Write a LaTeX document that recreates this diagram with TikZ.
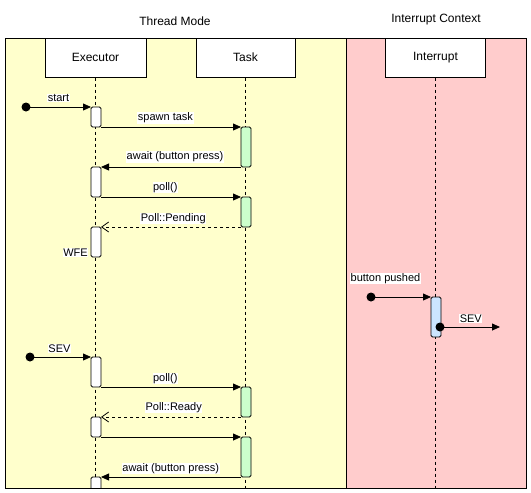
\documentclass[tikz,border=0pt]{standalone}
\usepackage{fontspec}
\setmainfont{Liberation Sans}
\usetikzlibrary{arrows.meta}
\definecolor{laney}{HTML}{FFFFCC}
\definecolor{lanep}{HTML}{FFCCCC}
\definecolor{actg}{HTML}{CCFFCC}
\definecolor{actb}{HTML}{CCE5FF}
\tikzset{
  lane/.style={draw, line width=1pt},
  head/.style={draw, fill=white, line width=1pt, minimum height=39pt, inner sep=0, font=\fontsize{12}{14}\selectfont},
  ttl/.style={font=\fontsize{12}{14}\selectfont},
  actbox/.style={draw, line width=0.8pt, rounded corners=1.5pt, minimum width=10pt, inner sep=0, outer sep=0},
  life/.style={line width=0.8pt, dash pattern=on 3pt off 3pt},
  sync/.style={line width=0.8pt, -{Triangle[length=8pt,width=7pt]}},
  reply/.style={line width=0.8pt, dash pattern=on 3pt off 3pt, -{Straight Barb[length=7pt,width=10pt]}},
  lbl/.style={fill=white, inner sep=0.5pt, font=\fontsize{11}{13}\selectfont},
  dotn/.style={circle, fill=black, minimum size=9pt, inner sep=0},
}
\begin{document}
\begin{tikzpicture}[x=1pt,y=-1pt]
\useasboundingbox (0,0) rectangle (531,493);
% lanes
\fill[laney] (5,38) rectangle (346,488);
\fill[lanep] (346,38) rectangle (526,488);
\node[ttl] (tthread) at (175,21) {Thread Mode};
\node[ttl] (tint) at (436,20) {Interrupt Context};
% headers
\node[head, minimum width=101pt] (exec) at (95.5,57.5) {Executor};
\node[head, minimum width=99pt] (task) at (245.5,57.5) {Task};
\node[head, minimum width=100pt] (intr) at (435.5,57.5) {Interrupt};
\coordinate (bot) at (0,488);
\draw[life] (exec.south) -- (exec.south |- bot);
\draw[life] (task.south) -- (task.south |- bot);
\draw[life] (intr.south) -- (intr.south |- bot);
% executor activations
\node[actbox, fill=white, minimum height=20pt] (e1) at (96,117) {};
\node[actbox, fill=white, minimum height=30pt] (e2) at (96,182) {};
\node[actbox, fill=white, minimum height=30pt] (e3) at (96,242) {};
\node[actbox, fill=white, minimum height=30pt] (e4) at (96,372) {};
\node[actbox, fill=white, minimum height=20pt] (e5) at (96,427) {};
\begin{scope}
\clip (5,38) rectangle (346,488);
\node[actbox, fill=white, minimum height=20pt] (e6) at (96,487) {};
\end{scope}
% task activations
\node[actbox, fill=actg, minimum height=40pt] (t1) at (246,147) {};
\node[actbox, fill=actg, minimum height=30pt] (t2) at (246,212) {};
\node[actbox, fill=actg, minimum height=30pt] (t3) at (246,402) {};
\node[actbox, fill=actg, minimum height=40pt] (t4) at (246,457) {};
% interrupt activation
\node[actbox, fill=actb, minimum height=40pt] (i1) at (436,317) {};
% lane borders
\draw[lane] (5,38) rectangle (346,488);
\draw[lane] (346,38) rectangle (526,488);
% dots
\node[dotn] (d1) at (26,107) {};
\node[dotn] (d2) at (30,357) {};
\node[dotn] (d3) at (371,297) {};
\node[dotn] (d4) at (440,327) {};
\coordinate (sevend) at (500,327);
% messages
\draw[sync] (d1.center) -- (e1.north west);
\draw[sync] (e1.south east) -- (t1.north west);
\draw[sync] (t1.south west) -- (e2.north east);
\draw[sync] (e2.south east) -- (t2.north west);
\draw[reply] (t2.south west) -- (e3.north east);
\draw[sync] (d2.center) -- (e4.north west);
\draw[sync] (e4.south east) -- (t3.north west);
\draw[reply] (t3.south west) -- (e5.north east);
\draw[sync] (e5.south east) -- (t4.north west);
\draw[sync] (t4.south west) -- (e6.north east);
\draw[sync] (d3.center) -- (i1.north west);
\draw[sync] (d4.center) -- (sevend);
% labels
\node[lbl] (lstart) at (58.5,98) {start};
\node[lbl] (lspawn) at (165.5,118) {spawn task};
\node[lbl] (lawait1) at (175,157) {await (button press)};
\node[lbl] (lpoll1) at (165.3,187.3) {poll()};
\node[lbl] (lpend) at (173.3,218.3) {Poll::Pending};
\node[lbl] (lwfe) at (75.5,252.7) {WFE};
\node[lbl] (lsev1) at (59.5,348.3) {SEV};
\node[lbl] (lpoll2) at (165.3,378.3) {poll()};
\node[lbl] (lready) at (173.7,407.7) {Poll::Ready};
\node[lbl] (lawait2) at (170.7,468.3) {await (button press)};
\node[lbl] (lbtn) at (385.5,278.3) {button pushed};
\node[lbl] (lsev2) at (470.8,318.3) {SEV};
\end{tikzpicture}
\end{document}
